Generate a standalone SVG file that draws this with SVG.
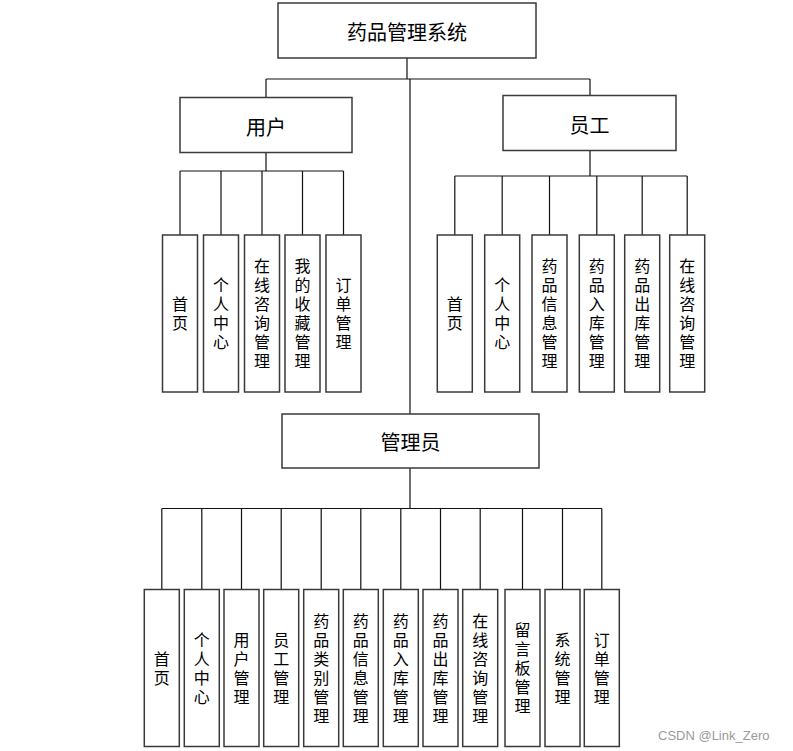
<svg xmlns="http://www.w3.org/2000/svg" width="793" height="751" viewBox="0 0 793 751">
<style>
.box{fill:#fff;stroke:#3a3a3a;stroke-width:1.5}
.ln{fill:none;stroke:#111;stroke-width:1.2}
.big{font-family:"Noto Sans CJK SC","Noto Sans",sans-serif;font-size:20px;fill:#000;text-anchor:middle;dominant-baseline:central}
.v{font-family:"Noto Sans CJK SC","Noto Sans",sans-serif;font-size:16px;fill:#000;text-anchor:middle;writing-mode:vertical-rl;letter-spacing:3px}
.wm{font-family:"Liberation Sans",Arial,sans-serif;font-size:13px;fill:#9a9a9a}
</style>
<rect width="793" height="751" fill="#fff"/>
<g id="connectors" class="ln">
<path d="M407 58V79M266 79H590M266 79V97M590 79V95M410 79V414"/>
<path d="M266 152V171M180 171H343.5M180 171V235M221 171V235M262 171V235M302.5 171V235M343.5 171V235"/>
<path d="M590 150V176M454.8 176H687.2M454.8 176V235M502.2 176V235M549.5 176V235M596.8 176V235M642.2 176V235M687.2 176V235"/>
<path d="M410 468V508.5M161.8 508.5H601.8M161.8 508.5V589.5M201.8 508.5V589.5M241.5 508.5V589.5M281.2 508.5V589.5M321.2 508.5V589.5M360.8 508.5V589.5M400.8 508.5V589.5M440.5 508.5V589.5M480.2 508.5V589.5M522.5 508.5V589.5M562.5 508.5V589.5M601.8 508.5V589.5"/>
</g>
<g id="root"><rect class="box" x="278" y="3" width="258" height="55"/><text class="big" x="407" y="31">药品管理系统</text></g>
<g id="user"><rect class="box" x="180" y="97.5" width="172" height="55"/><text class="big" x="266" y="126">用户</text></g>
<g id="staff"><rect class="box" x="503" y="95.5" width="173" height="55"/><text class="big" x="589.5" y="124.5">员工</text></g>
<g id="admin"><rect class="box" x="282" y="414" width="257" height="54"/><text class="big" x="410.5" y="441.5">管理员</text></g>

<g id="u1"><rect class="box" x="162.5" y="235" width="35" height="157"/><text class="v" x="180" y="315">首页</text></g>
<g id="u2"><rect class="box" x="203.5" y="235" width="35" height="157"/><text class="v" x="221" y="315">个人中心</text></g>
<g id="u3"><rect class="box" x="244.5" y="235" width="35" height="157"/><text class="v" x="262" y="315">在线咨询管理</text></g>
<g id="u4"><rect class="box" x="285" y="235" width="35" height="157"/><text class="v" x="302.5" y="315">我的收藏管理</text></g>
<g id="u5"><rect class="box" x="326" y="235" width="35" height="157"/><text class="v" x="343.5" y="315">订单管理</text></g>

<g id="s1"><rect class="box" x="437.3" y="235" width="35" height="157"/><text class="v" x="454.8" y="315">首页</text></g>
<g id="s2"><rect class="box" x="484.7" y="235" width="35" height="157"/><text class="v" x="502.2" y="315">个人中心</text></g>
<g id="s3"><rect class="box" x="532" y="235" width="35" height="157"/><text class="v" x="549.5" y="315">药品信息管理</text></g>
<g id="s4"><rect class="box" x="579.3" y="235" width="35" height="157"/><text class="v" x="596.8" y="315">药品入库管理</text></g>
<g id="s5"><rect class="box" x="624.7" y="235" width="35" height="157"/><text class="v" x="642.2" y="315">药品出库管理</text></g>
<g id="s6"><rect class="box" x="669.7" y="235" width="35" height="157"/><text class="v" x="687.2" y="315">在线咨询管理</text></g>

<g id="a1"><rect class="box" x="144.3" y="589.5" width="35" height="157"/><text class="v" x="161.8" y="669.5">首页</text></g>
<g id="a2"><rect class="box" x="184.3" y="589.5" width="35" height="157"/><text class="v" x="201.8" y="669.5">个人中心</text></g>
<g id="a3"><rect class="box" x="224" y="589.5" width="35" height="157"/><text class="v" x="241.5" y="669.5">用户管理</text></g>
<g id="a4"><rect class="box" x="263.7" y="589.5" width="35" height="157"/><text class="v" x="281.2" y="669.5">员工管理</text></g>
<g id="a5"><rect class="box" x="303.7" y="589.5" width="35" height="157"/><text class="v" x="321.2" y="669.5">药品类别管理</text></g>
<g id="a6"><rect class="box" x="343.3" y="589.5" width="35" height="157"/><text class="v" x="360.8" y="669.5">药品信息管理</text></g>
<g id="a7"><rect class="box" x="383.3" y="589.5" width="35" height="157"/><text class="v" x="400.8" y="669.5">药品入库管理</text></g>
<g id="a8"><rect class="box" x="423" y="589.5" width="35" height="157"/><text class="v" x="440.5" y="669.5">药品出库管理</text></g>
<g id="a9"><rect class="box" x="462.7" y="589.5" width="35" height="157"/><text class="v" x="480.2" y="669.5">在线咨询管理</text></g>
<g id="a10"><rect class="box" x="505" y="589.5" width="35" height="157"/><text class="v" x="522.5" y="669.5">留言板管理</text></g>
<g id="a11"><rect class="box" x="545" y="589.5" width="35" height="157"/><text class="v" x="562.5" y="669.5">系统管理</text></g>
<g id="a12"><rect class="box" x="584.3" y="589.5" width="35" height="157"/><text class="v" x="601.8" y="669.5">订单管理</text></g>

<text class="wm" x="658" y="740">CSDN @Link_Zero</text>
</svg>
